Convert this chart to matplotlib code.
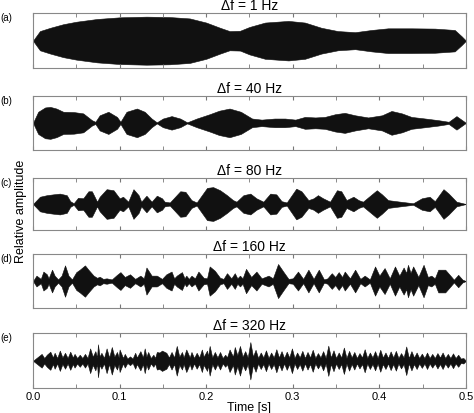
import numpy as np
import matplotlib
matplotlib.use('Agg')
import matplotlib.pyplot as plt

plt.rcParams['font.family'] = ['Liberation Sans', 'DejaVu Sans']

# envelope of each signal (time in s, amplitude relative to half the panel height)
a_t = [0, 0.008, 0.02, 0.035, 0.05, 0.074, 0.1, 0.131, 0.158, 0.181, 0.2, 0.216, 0.227,
       0.239, 0.25, 0.268, 0.295, 0.314, 0.333, 0.352, 0.372, 0.391, 0.41, 0.437, 0.464,
       0.487, 0.495, 0.5]
a_env = [0, 0.35, 0.47, 0.6, 0.69, 0.79, 0.85, 0.875, 0.86, 0.81, 0.66, 0.47, 0.35,
         0.36, 0.5, 0.66, 0.72, 0.66, 0.47, 0.35, 0.31, 0.39, 0.45, 0.45, 0.44,
         0.39, 0.16, 0]

b_t = [0, 0.006, 0.014, 0.02, 0.027, 0.035, 0.047, 0.058, 0.068, 0.072, 0.077, 0.087,
       0.097, 0.101, 0.108, 0.12, 0.129, 0.137, 0.143, 0.15, 0.16, 0.17, 0.178, 0.189,
       0.204, 0.215, 0.227, 0.24, 0.253, 0.264, 0.279, 0.291, 0.303, 0.314, 0.326, 0.337,
       0.349, 0.36, 0.372, 0.387, 0.403, 0.414, 0.426, 0.437, 0.453, 0.468, 0.48, 0.489, 0.5]
b_env = [0, 0.41, 0.57, 0.59, 0.53, 0.41, 0.40, 0.35, 0.10, 0.04, 0.28, 0.41,
         0.22, 0.04, 0.41, 0.53, 0.41, 0.16, 0.02, 0.16, 0.25, 0.16, 0.02, 0.16,
         0.32, 0.45, 0.53, 0.41, 0.16, 0.12, 0.16, 0.16, 0.12, 0.22, 0.20, 0.22,
         0.32, 0.37, 0.28, 0.20, 0.28, 0.44, 0.35, 0.22, 0.16, 0.10, 0.04, 0.25, 0.0]

c_t = [0, 0.008, 0.016, 0.023, 0.031, 0.039, 0.043, 0.047, 0.052, 0.058, 0.064, 0.068,
       0.074, 0.077, 0.085, 0.093, 0.1, 0.104, 0.11, 0.116, 0.122, 0.125, 0.131, 0.137,
       0.143, 0.149, 0.152, 0.158, 0.17, 0.176, 0.183, 0.189, 0.201, 0.208, 0.216, 0.224,
       0.231, 0.235, 0.243, 0.251, 0.258, 0.266, 0.274, 0.281, 0.287, 0.293, 0.304, 0.31,
       0.318, 0.324, 0.329, 0.335, 0.343, 0.351, 0.356, 0.362, 0.37, 0.376, 0.381, 0.397,
       0.403, 0.41, 0.424, 0.439, 0.449, 0.458, 0.464, 0.474, 0.48, 0.489, 0.5]
c_env = [0, 0.28, 0.34, 0.37, 0.40, 0.34, 0.11, 0.03, 0.24, 0.22, 0.49, 0.49,
         0.09, 0.28, 0.57, 0.53, 0.22, 0.28, 0.09, 0.57, 0.34, 0.09, 0.32, 0.09,
         0.32, 0.22, 0.09, 0.06, 0.49, 0.47, 0.15, 0.06, 0.62, 0.65, 0.53, 0.34,
         0.15, 0.09, 0.34, 0.40, 0.22, 0.09, 0.40, 0.37, 0.11, 0.06, 0.59, 0.49,
         0.15, 0.22, 0.34, 0.22, 0.09, 0.53, 0.49, 0.15, 0.28, 0.15, 0.09, 0.53,
         0.37, 0.15, 0.09, 0.03, 0.22, 0.28, 0.11, 0.57, 0.40, 0.09, 0.0]

d_t = [0, 0.004, 0.009, 0.012, 0.016, 0.018, 0.022, 0.025, 0.029, 0.033, 0.037, 0.041,
       0.045, 0.05, 0.054, 0.06, 0.064, 0.07, 0.074, 0.077, 0.081, 0.085, 0.091, 0.097,
       0.101, 0.106, 0.112, 0.118, 0.124, 0.128, 0.131, 0.137, 0.143, 0.149, 0.154, 0.16,
       0.163, 0.166, 0.172, 0.175, 0.177, 0.18, 0.183, 0.187, 0.191, 0.197, 0.201, 0.204,
       0.21, 0.216, 0.22, 0.224, 0.229, 0.233, 0.236, 0.239, 0.242, 0.246, 0.252, 0.258,
       0.264, 0.272, 0.277, 0.283, 0.289, 0.295, 0.3, 0.306, 0.312, 0.318, 0.324, 0.33,
       0.336, 0.34, 0.345, 0.349, 0.353, 0.357, 0.36, 0.366, 0.372, 0.378, 0.383, 0.389,
       0.395, 0.4, 0.406, 0.412, 0.418, 0.423, 0.428, 0.431, 0.433, 0.436, 0.439, 0.445,
       0.451, 0.456, 0.46, 0.464, 0.468, 0.476, 0.482, 0.486, 0.491, 0.496, 0.5]
d_env = [0, 0.2, 0.08, 0.35, 0.25, 0.1, 0.42, 0.2, 0.06, 0.2, 0.58, 0.2,
         0.06, 0.33, 0.42, 0.58, 0.42, 0.2, 0.12, 0.16, 0.08, 0.1, 0.06, 0.23,
         0.33, 0.15, 0.25, 0.08, 0.2, 0.1, 0.5, 0.2, 0.2, 0.08, 0.25, 0.35,
         0.1, 0.2, 0.33, 0.1, 0.2, 0.08, 0.2, 0.1, 0.35, 0.12, 0.1, 0.54,
         0.38, 0.12, 0.08, 0.29, 0.1, 0.29, 0.1, 0.2, 0.1, 0.45, 0.15, 0.35,
         0.1, 0.2, 0.1, 0.63, 0.35, 0.08, 0.1, 0.35, 0.08, 0.42, 0.08, 0.42,
         0.06, 0.1, 0.29, 0.15, 0.33, 0.15, 0.35, 0.1, 0.42, 0.08, 0.2, 0.06,
         0.54, 0.2, 0.48, 0.1, 0.54, 0.2, 0.5, 0.3, 0.6, 0.3, 0.54, 0.15,
         0.6, 0.15, 0.2, 0.1, 0.42, 0.42, 0.2, 0.05, 0.23, 0.05, 0.0]

e_t = [0, 0.004, 0.01, 0.013, 0.016, 0.02, 0.023, 0.025, 0.028, 0.031, 0.034, 0.037,
       0.04, 0.043, 0.046, 0.048, 0.051, 0.054, 0.057, 0.06, 0.063, 0.066, 0.069, 0.072,
       0.074, 0.075, 0.077, 0.079, 0.082, 0.085, 0.088, 0.091, 0.094, 0.097, 0.099, 0.1,
       0.104, 0.106, 0.109, 0.112, 0.115, 0.118, 0.12, 0.124, 0.127, 0.129, 0.131, 0.133,
       0.136, 0.139, 0.141, 0.143, 0.146, 0.149, 0.154, 0.157, 0.16, 0.163, 0.166, 0.169,
       0.172, 0.174, 0.177, 0.181, 0.183, 0.186, 0.189, 0.192, 0.195, 0.197, 0.201, 0.202,
       0.204, 0.207, 0.21, 0.213, 0.216, 0.219, 0.222, 0.224, 0.227, 0.231, 0.233, 0.236,
       0.239, 0.242, 0.245, 0.248, 0.251, 0.254, 0.257, 0.26, 0.263, 0.266, 0.269, 0.272,
       0.275, 0.278, 0.281, 0.284, 0.287, 0.29, 0.293, 0.296, 0.299, 0.302, 0.305, 0.308,
       0.311, 0.314, 0.317, 0.32, 0.323, 0.326, 0.329, 0.332, 0.335, 0.338, 0.341, 0.344,
       0.347, 0.35, 0.353, 0.356, 0.359, 0.362, 0.365, 0.368, 0.371, 0.374, 0.377, 0.38,
       0.383, 0.386, 0.389, 0.392, 0.395, 0.398, 0.401, 0.404, 0.407, 0.41, 0.413, 0.416,
       0.419, 0.422, 0.425, 0.428, 0.431, 0.434, 0.437, 0.44, 0.443, 0.446, 0.449, 0.452,
       0.455, 0.458, 0.461, 0.464, 0.467, 0.47, 0.473, 0.476, 0.479, 0.482, 0.485, 0.488,
       0.491, 0.494, 0.497, 0.5]
e_env = [0, 0.1, 0.25, 0.1, 0.22, 0.33, 0.12, 0.29, 0.1, 0.37, 0.12, 0.29,
         0.1, 0.33, 0.12, 0.25, 0.1, 0.22, 0.1, 0.25, 0.1, 0.45, 0.15, 0.35,
         0.12, 0.6, 0.15, 0.29, 0.1, 0.45, 0.12, 0.5, 0.15, 0.32, 0.12, 0.41,
         0.1, 0.25, 0.08, 0.16, 0.08, 0.29, 0.12, 0.35, 0.12, 0.45, 0.15, 0.32,
         0.1, 0.22, 0.1, 0.32, 0.3, 0.37, 0.29, 0.12, 0.32, 0.12, 0.54, 0.15,
         0.32, 0.12, 0.41, 0.12, 0.32, 0.1, 0.29, 0.12, 0.41, 0.15, 0.37, 0.15,
         0.54, 0.12, 0.32, 0.12, 0.32, 0.1, 0.22, 0.12, 0.41, 0.15, 0.5, 0.2,
         0.54, 0.15, 0.35, 0.12, 0.68, 0.15, 0.4, 0.1, 0.3, 0.12, 0.38, 0.1,
         0.3, 0.12, 0.42, 0.12, 0.35, 0.1, 0.33, 0.12, 0.45, 0.1, 0.3, 0.12,
         0.36, 0.1, 0.32, 0.12, 0.4, 0.1, 0.28, 0.12, 0.35, 0.1, 0.55, 0.12,
         0.38, 0.1, 0.3, 0.12, 0.48, 0.1, 0.36, 0.12, 0.32, 0.1, 0.28, 0.12,
         0.42, 0.1, 0.3, 0.12, 0.35, 0.1, 0.4, 0.12, 0.3, 0.1, 0.34, 0.12,
         0.36, 0.1, 0.28, 0.12, 0.52, 0.1, 0.35, 0.12, 0.3, 0.1, 0.26, 0.1,
         0.3, 0.1, 0.25, 0.1, 0.28, 0.12, 0.3, 0.1, 0.25, 0.1, 0.27, 0.1,
         0.22, 0.08, 0.1, 0]

titles = ['\u0394f = 1 Hz', '\u0394f = 40 Hz', '\u0394f = 80 Hz', '\u0394f = 160 Hz', '\u0394f = 320 Hz']
letters = ['(a)', '(b)', '(c)', '(d)', '(e)']
major_ticks = [0.0, 0.1, 0.2, 0.3, 0.4, 0.5]
minor_ticks = [0.05, 0.15, 0.25, 0.35, 0.45]
tick_labels = ['0.0', '0.1', '0.2', '0.3', '0.4', '0.5']
signals = [(a_t, a_env), (b_t, b_env), (c_t, c_env), (d_t, d_env), (e_t, e_env)]

fig = plt.figure(figsize=(4.74, 4.13), dpi=100)
bottoms = [0.835, 0.637, 0.443, 0.254, 0.060]
heights = [0.133, 0.131, 0.126, 0.131, 0.133]

for i, (t, env) in enumerate(signals):
    ax = fig.add_axes([0.0696, bottoms[i], 0.9135, heights[i]])
    t = np.array(t)
    env = np.array(env)
    ax.fill_between(t, -env, env, color='#111111', lw=0.4, edgecolor='#111111')
    ax.plot(t, np.zeros_like(t), color='#111111', lw=0.6)
    ax.set_xlim(0, 0.5)
    ax.set_ylim(-1, 1)
    ax.set_yticks([])
    ax.set_xticks(major_ticks)
    ax.set_xticks(minor_ticks, minor=True)
    ax.tick_params(axis='x', which='both', direction='in', top=True, length=3,
                   color='#777777', labelsize=8, pad=3)
    for s in ax.spines.values():
        s.set_color('#888888')
        s.set_linewidth(0.8)
    ax.set_title(titles[i], fontsize=10, pad=2)
    if i < 4:
        ax.set_xticklabels([])
    else:
        ax.set_xticklabels(tick_labels)
        ax.set_xlabel('Time [s]', fontsize=9, labelpad=0)
    fig.text(0.0, bottoms[i] + heights[i] - 0.012, letters[i], fontsize=7,
             ha='left', va='center')

fig.text(0.044, 0.487, 'Relative amplitude', rotation=90, fontsize=9,
         ha='center', va='center')

plt.savefig('out.png', dpi=100)
plt.close()
